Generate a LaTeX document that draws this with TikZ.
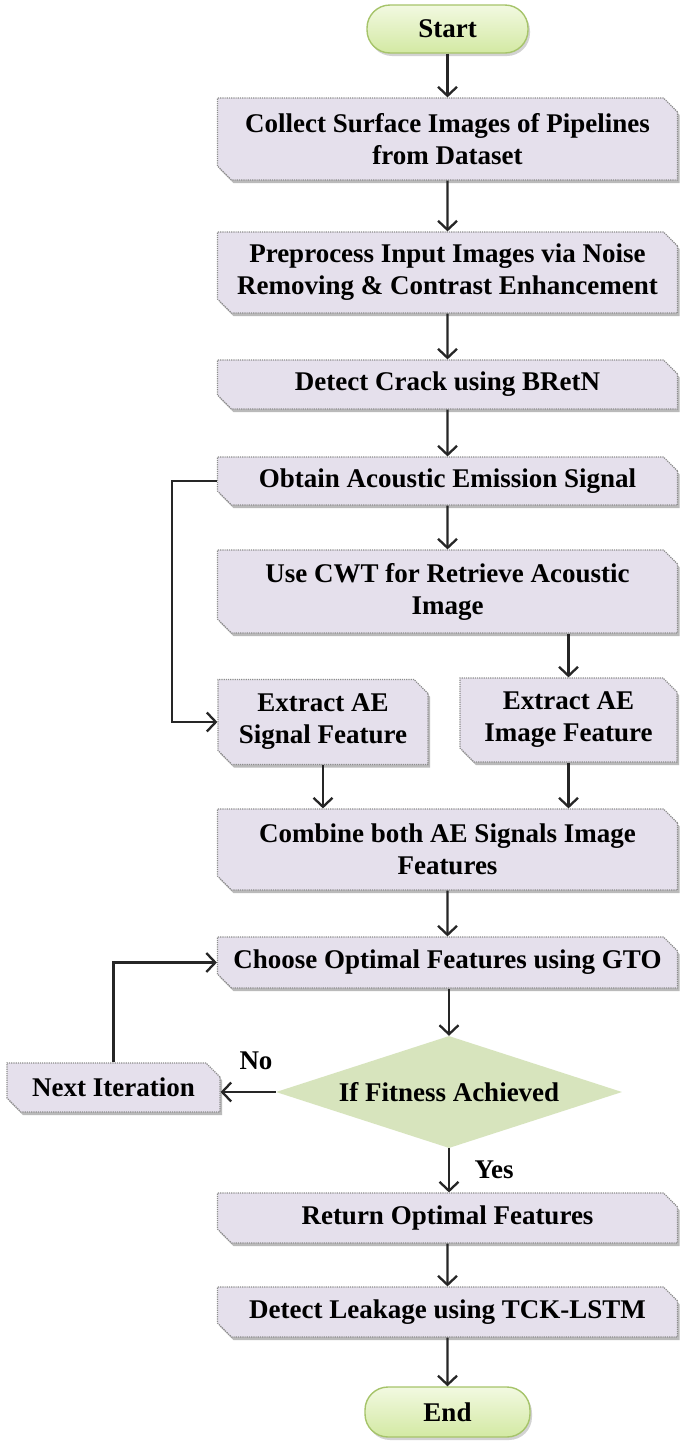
\documentclass[tikz,border=0pt]{standalone}
\usepackage{fontspec}
\setmainfont{Liberation Serif}
\usetikzlibrary{shapes.misc,shapes.geometric,shadows,arrows.meta}
\definecolor{boxfill}{HTML}{E5E0EC}
\definecolor{boxline}{HTML}{8C8C8C}
\definecolor{dfill}{HTML}{D7E4BD}
\definecolor{ttop}{HTML}{F2F9E1}
\definecolor{tbot}{HTML}{D3E9A3}
\definecolor{tline}{HTML}{A6C46A}
\begin{document}
\begin{tikzpicture}[x=1pt,y=-1pt,
  font=\fontsize{27}{32}\selectfont\bfseries,
  proc/.style={chamfered rectangle,
    chamfered rectangle corners={north east,south west},
    chamfered rectangle xsep=7pt, chamfered rectangle ysep=7pt,
    inner sep=0pt, align=center, fill=boxfill, draw=boxline,
    densely dotted, line width=1.2pt,
    drop shadow={shadow xshift=2pt,shadow yshift=-3pt,opacity=.45,fill=black!60}},
  term/.style={rectangle, rounded corners=23pt, inner sep=0pt,
    top color=ttop, bottom color=tbot, draw=tline, line width=1.4pt,
    drop shadow={shadow xshift=2pt,shadow yshift=-3pt,opacity=.35,fill=black!50}},
  dec/.style={diamond, aspect=3.1, inner sep=0pt, fill=dfill,
    minimum width=346pt, minimum height=112pt},
  flow/.style={draw=black!85, line width=2.3pt,
    -{Straight Barb[length=9pt,width=19pt,line width=2.3pt]}},
  lbl/.style={inner sep=0pt}]
\useasboundingbox (0,0) rectangle (685,1449);
\fill[white] (0,0) rectangle (685,1449);

\node[term, minimum width=161pt, minimum height=48pt] (start) at (447.5,29) {Start};
\node[proc, minimum width=460pt, minimum height=82pt] (b1) at (447.5,139) {Collect Surface Images of Pipelines\\from Dataset};
\node[proc, minimum width=460pt, minimum height=81pt] (b2) at (447.5,272.5) {Preprocess Input Images via Noise\\Removing \& Contrast Enhancement};
\node[proc, minimum width=460pt, minimum height=49pt] (b3) at (447.5,384.5) {Detect Crack using BRetN};
\node[proc, minimum width=460pt, minimum height=48pt] (b4) at (447.5,481) {Obtain Acoustic Emission Signal};
\node[proc, minimum width=460pt, minimum height=83pt] (b5) at (447.5,591.5) {Use CWT for Retrieve Acoustic\\Image};
\node[proc, minimum width=210pt, minimum height=85pt] (b6) at (323,722) {Extract AE\\Signal Feature};
\node[proc, minimum width=217pt, minimum height=84pt] (b7) at (568.5,720) {Extract AE\\Image Feature};
\node[proc, minimum width=460pt, minimum height=81pt] (b8) at (447.5,849.5) {Combine both AE Signals Image\\Features};
\node[proc, minimum width=460pt, minimum height=51pt] (b9) at (447.5,962.5) {Choose Optimal Features using GTO};
\node[dec] (dia) at (449,1092) {If Fitness Achieved};
\node[proc, minimum width=213pt, minimum height=49pt] (next) at (113.5,1087.5) {Next Iteration};
\node[proc, minimum width=460pt, minimum height=50pt] (b10) at (447.5,1218) {Return Optimal Features};
\node[proc, minimum width=460pt, minimum height=50pt] (b11) at (447.5,1312) {Detect Leakage using TCK-LSTM};
\node[term, minimum width=165pt, minimum height=50pt] (end) at (447.5,1412) {End};

\node[lbl] (no) at (256,1061) {No};
\node[lbl] (yes) at (494,1170) {Yes};

\coordinate (lp) at (172,481);

\draw[flow] (start) -- (b1);
\draw[flow] (b1) -- (b2);
\draw[flow] (b2) -- (b3);
\draw[flow] (b3) -- (b4);
\draw[flow] (b4) -- (b5);
\draw[flow] (b7.north |- b5.south) -- (b7.north);
\draw[flow] (b4.west) -- (lp) |- (b6.west);
\draw[flow] (b6.south) -- (b6.south |- b8.north);
\draw[flow] (b7.south) -- (b7.south |- b8.north);
\draw[flow] (b8) -- (b9);
\draw[flow] (b9.south -| dia.north) -- (dia.north);
\draw[flow] (dia.west) -- (next.east |- dia.west);
\draw[flow] (next.north) |- (b9.west);
\draw[flow] (dia.south) -- (dia.south |- b10.north);
\draw[flow] (b10) -- (b11);
\draw[flow] (b11) -- (end);
\end{tikzpicture}
\end{document}
